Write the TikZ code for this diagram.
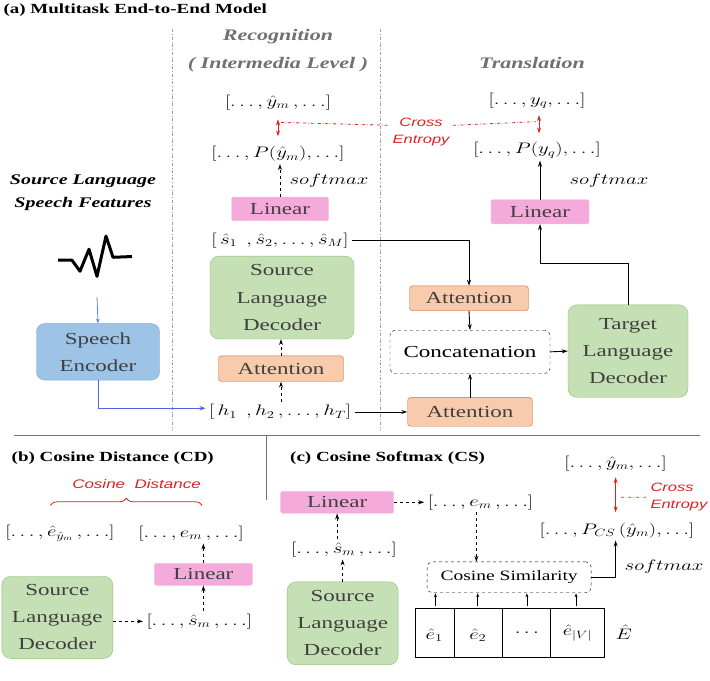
\documentclass[tikz,border=0pt]{standalone}
\usepackage{fontspec}
\setmainfont{Liberation Serif}
\newfontfamily\sansf{Liberation Sans}
\usetikzlibrary{arrows.meta,decorations.pathreplacing}
\definecolor{gfill}{HTML}{C5E0B4}\definecolor{gdraw}{HTML}{8CBF6E}
\definecolor{pfill}{HTML}{F4AADB}\definecolor{pdraw}{HTML}{F0C0E0}
\definecolor{ofill}{HTML}{F8CBAD}\definecolor{odraw}{HTML}{C0703C}
\definecolor{bfill}{HTML}{9DC3E6}\definecolor{bdraw}{HTML}{7FA8D0}
\definecolor{ered}{HTML}{E02020}\definecolor{hgray}{HTML}{707070}
\definecolor{tx}{HTML}{404040}
\tikzset{
 bx/.style={font=\fontsize{23}{37}\selectfont},
 mt/.style={font=\fontsize{21.5}{24}\selectfont},
 green/.style={bx,draw=gdraw,fill=gfill,rounded corners=9pt,align=center,text=tx},
 pink/.style={bx,fill=pfill,draw=pdraw,rounded corners=2pt,text=tx},
 orange/.style={bx,draw=odraw,fill=ofill,rounded corners=3pt,text=tx},
 blue/.style={bx,draw=bdraw,fill=bfill,rounded corners=8pt,align=center,text=tx},
 dbox/.style={draw,dashed,rounded corners=5pt},
 ar/.style={-{Stealth[length=6pt,width=4pt]},line width=0.9pt},
 dar/.style={ar,dashed},
 rar/.style={{Stealth[length=6pt,width=4pt]}-{Stealth[length=6pt,width=4pt]},ered,line width=0.8pt},
 rdd/.style={ered,dash dot,line width=0.8pt},
 red/.style={text=ered,font=\sansf\itshape\fontsize{16.5}{23}\selectfont,align=center},
 ttl/.style={font=\bfseries\fontsize{19}{22}\selectfont,anchor=west},
 hd/.style={text=hgray,font=\bfseries\itshape\fontsize{22}{26}\selectfont},
}
\begin{document}
\begin{tikzpicture}[x=1pt,y=-1pt,yscale=0.733,every node/.append style={transform shape}]
\useasboundingbox (0,0) rectangle (710,929);
% (a)
\node[ttl] at (0,14) {(a) Multitask End-to-End Model};
\draw[hgray!70,dash dot,line width=0.5pt] (172,40) -- (172,586);
\draw[hgray!70,dash dot,line width=0.5pt] (380,40) -- (380,586);
\node[hd] at (278,50) {Recognition};
\node[hd] at (278,88) {( Intermedia Level )};
\node[hd] at (532,86) {Translation};
\node[font=\bfseries\itshape\fontsize{20}{32}\selectfont,align=center] at (83,263) {Source Language\\Speech Features};
\draw[line width=3pt,line join=round] (58,355) -- (72,355) -- (80,370) -- (89,340) -- (97,377) -- (106,322) -- (113,351) -- (132,350);
\node[mt] (ya) at (278,140) {$[\ldots,\hat{y}_m\,,\ldots]$};
\node[mt] (yq) at (537,138) {$[\ldots,y_q,\ldots]$};
\node[mt] (pa) at (278,210) {$[\ldots,P(\hat{y}_m),\ldots]$};
\node[mt] (pq) at (537,205) {$[\ldots,P(y_q),\ldots]$};
\node[mt,anchor=west] at (286,247) {$softmax$};
\node[mt,anchor=west] at (566,247) {$softmax$};
\node[pink,minimum width=97pt,minimum height=32pt] (la) at (280,285) {Linear};
\node[pink,minimum width=98pt,minimum height=33pt] (lb) at (540,289) {Linear};
\node[mt] (s) at (280,328) {$[\,\hat{s}_1\;\,,\hat{s}_2,\ldots,\hat{s}_M]$};
\node[green,minimum width=144pt,minimum height=113pt] (sd) at (282,406) {Source\\Language\\Decoder};
\node[orange,minimum width=125pt,minimum height=35pt] (at1) at (281,503) {Attention};
\node[mt] (h) at (280,562) {$[\,h_1\;\,,h_2\,,\ldots,h_T]$};
\node[blue,minimum width=123pt,minimum height=77pt] (se) at (98,480) {Speech\\Encoder};
\node[orange,minimum width=119pt,minimum height=34pt] (at2) at (469,407) {Attention};
\node[dbox,bx,minimum width=160pt,minimum height=59pt] (cc) at (470,480) {Concatenation};
\node[orange,minimum width=125pt,minimum height=39pt] (at3) at (470,562) {Attention};
\node[green,minimum width=120pt,minimum height=126pt] (td) at (628,479) {Target\\Language\\Decoder};
\coordinate (wv) at (97,405);
\draw[-{Stealth[length=5pt]},bdraw!80!blue,line width=0.8pt] (wv) -- (se.north);
\draw[-{Stealth[length=6pt]},bdraw!60!blue,line width=1pt] (se.south) |- (h.west|-0,557);
\draw[rar] (278,163) -- (278,186);
\draw[rar] (539,157) -- (539,182);
\node[red] (ce) at (421,180) {Cross\\Entropy};
\draw[rdd] (281,167) -- (ce.west|-0,171);
\draw[rdd] (ce.east|-0,171) -- (536,166);
\draw[dar] (la.north) -- (pa.south-|la.north);
\draw[ar] (lb.north) -- (pq.south-|lb.north);
\draw[ar] (s.east) -| (at2.north);
\draw[dar] (at1.north) -- (sd.south-|at1.north);
\draw[dar] (h.north-|at1.south) -- (at1.south);
\draw[ar] (h.east) -- (at3.west);
\draw[ar] (at3.north) -- (cc.south);
\draw[ar] (at2.south) -- (cc.north);
\draw[ar] (cc.east) -- (td.west);
\draw[ar] (td.north) |- (540,360) -- (lb.south);
% separators
\draw[hgray,line width=1.2pt] (14,594) -- (700,594);
\begin{scope}[x=1.365pt,y=-1.365pt]
\draw[hgray,line width=1pt] (195,435) -- (195,500);
% (b)
\node[ttl] at (6,458) {(b) Cosine Distance (CD)};
\node[red,font=\sansf\itshape\fontsize{17}{20}\selectfont] at (100,484) {Cosine\;\;Distance};
\draw[ered,line width=0.8pt,decorate,decoration={brace,amplitude=7pt}] (37,505) -- (148,505);
\node[mt,font=\fontsize{20}{24}\selectfont] (eb) at (44,533) {$[\ldots,\hat{e}_{\hat{y}_m}\,,\ldots]$};
\node[mt,font=\fontsize{20}{24}\selectfont] (emb) at (140,533) {$[\ldots,e_m\,,\ldots]$};
\node[pink,minimum width=98pt,minimum height=30pt] (lbb) at (149,574) {Linear};
\node[green,minimum width=111pt,minimum height=112pt] (sdb) at (42,617) {Source\\Language\\Decoder};
\node[mt,font=\fontsize{20}{24}\selectfont] (smb) at (146,621) {$[\ldots,\hat{s}_m\,,\ldots]$};
\draw[dar] (sdb.east|-smb) -- (smb.west);
\draw[dar] (smb.north-|lbb) -- (lbb.south);
\draw[dar] (lbb.north) -- (emb.south-|lbb);
% (c)
\node[ttl] at (210,458) {(c) Cosine Softmax (CS)};
\node[pink,minimum width=113pt,minimum height=30pt] (lc) at (247,502) {Linear};
\node[mt] (emc) at (352,502) {$[\ldots,e_m\,,\ldots]$};
\node[mt] (smc) at (252,549) {$[\ldots,\hat{s}_m\,,\ldots]$};
\node[green,minimum width=111pt,minimum height=113pt] (sdc) at (251,623) {Source\\Language\\Decoder};
\node[dbox,font=\fontsize{19.5}{22}\selectfont,minimum width=164pt,minimum height=42pt] (cs) at (373,577) {Cosine Similarity};
\draw[line width=0.6pt] (304,608) rectangle (443,657);
\foreach \xx in {333,368,403} \draw[line width=0.6pt] (\xx,608) -- (\xx,657);
\node[mt] (e1) at (318,635) {$\hat{e}_1$};
\node[mt] (e2) at (350,635) {$\hat{e}_2$};
\node[mt] (e3) at (386,633) {$\cdots$};
\node[mt] (e4) at (423,633) {$\hat{e}_{|V|}$};
\node[mt] at (457,632) {$\hat{E}$};
\foreach \xx in {319,350,386,422} \draw[-{Stealth[length=4pt,width=3pt]},line width=0.6pt] (\xx,606) -- (\xx,593);
\node[mt] (yc) at (451,463) {$[\ldots,\hat{y}_m,\ldots]$};
\node[mt] (pc) at (452,530) {$[\ldots,P_{CS}\,(\hat{y}_m),\ldots]$};
\node[mt,font=\fontsize{20}{24}\selectfont,anchor=east] at (518,566) {$softmax$};
\draw[rar] (451,477) -- (451,512);
\node[red,align=left,anchor=west] (cec) at (474,497) {Cross\\Entropy};
\draw[rdd] (455,497) -- (cec.west);
\draw[ar] (cs.east) -| (pc.south-|451,0);
\draw[dar] (emc.south-|349,0) -- (cs.north-|349,0);
\draw[dar,line width=1.3pt] (lc.east) -- (emc.west);
\draw[dar] (smc.north-|lc) -- (lc.south);
\draw[dar] (sdc.north) -- (smc.south-|sdc);
\end{scope}
\end{tikzpicture}
\end{document}
